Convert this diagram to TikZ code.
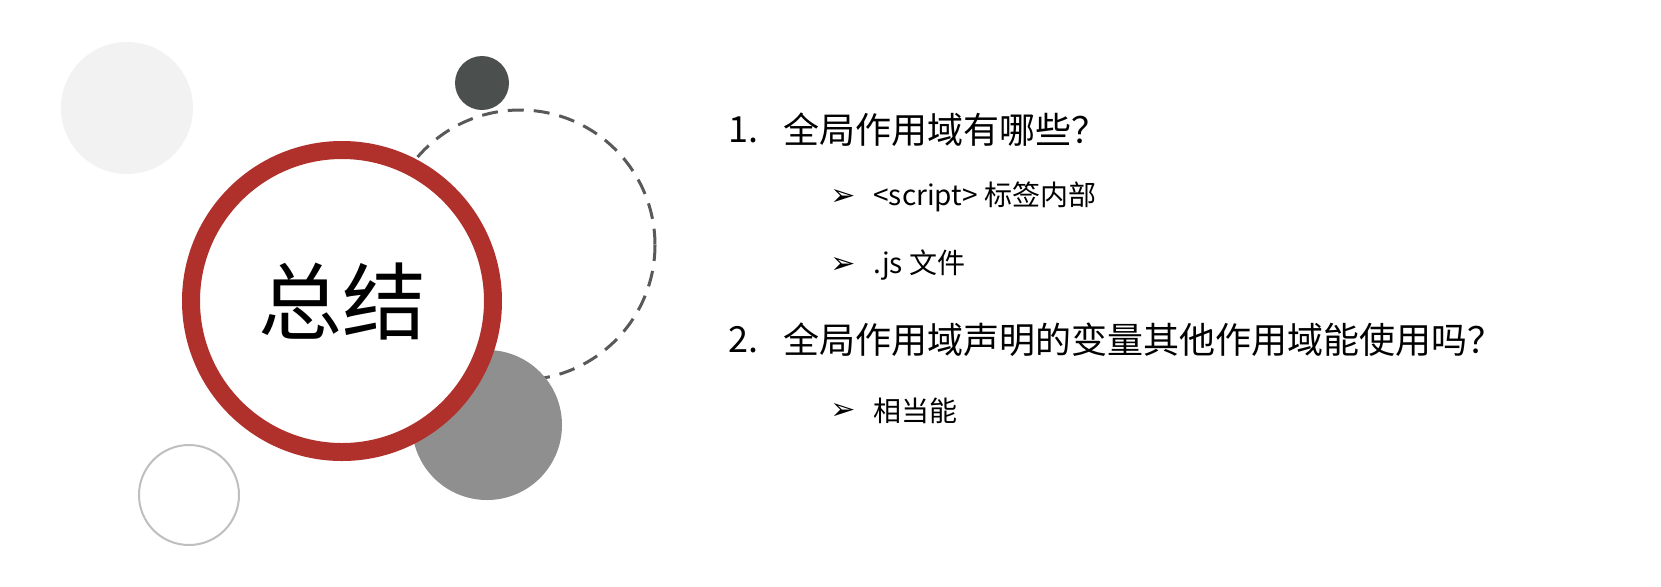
\documentclass[tikz,border=0pt]{standalone}
\usepackage{fontspec}
\setmainfont{Noto Sans CJK SC}
\newfontfamily\symf{DejaVu Sans}
\definecolor{ringred}{HTML}{B0302C}
\definecolor{darkc}{HTML}{4B504E}
\definecolor{midg}{HTML}{8F8F8F}
\begin{document}
\begin{tikzpicture}[x=0.5pt,y=-0.5pt,
  lvl/.style={anchor=west,font=\fontsize{18}{20}\selectfont,inner sep=0},
  sub/.style={anchor=west,font=\fontsize{14}{16}\selectfont,inner sep=0},
  arr/.style={anchor=west,font=\symf\bfseries\fontsize{15}{16}\selectfont,inner sep=0}]
\useasboundingbox (0,0) rectangle (1661,586);
\fill[white] (0,0) rectangle (1661,586);
\fill[black!5] (127,108) circle (66);
\fill[darkc] (482,83) circle (27);
\draw[black!65,line width=1.5pt,dash pattern=on 8pt off 5pt] (520,245) circle (135);
\fill[midg] (487,425) circle (75);
\draw[black!25,line width=1pt] (189,495) circle (50);
\draw[ringred,line width=9pt,fill=white] (342,301) circle (151);
\node[font=\fontsize{42}{46}\selectfont] (t) at (342,301) {总结};
\node[lvl] (n1) at (728,130) {1.};
\node[lvl] (q1) at (783,130) {全局作用域有哪些？};
\node[arr] (a1) at (830,197) {➢};
\node[sub] (s1) at (873,197) {<script> 标签内部};
\node[arr] (a2) at (830,265) {➢};
\node[sub] (s2) at (873,265) {.js 文件};
\node[lvl] (n2) at (728,340) {2.};
\node[lvl] (q2) at (783,340) {全局作用域声明的变量其他作用域能使用吗？};
\node[arr] (a3) at (830,411) {➢};
\node[sub] (s3) at (873,411) {相当能};
\end{tikzpicture}
\end{document}
